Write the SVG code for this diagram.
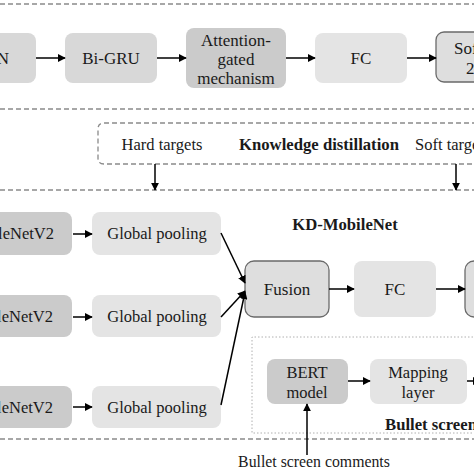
<svg xmlns="http://www.w3.org/2000/svg" width="474" height="474" viewBox="0 0 474 474">
<style>
text{font-family:"Liberation Serif","Times New Roman",serif;fill:#1a1a1a;text-anchor:middle}
.t17{font-size:17px}
.t16{font-size:16.5px}
.b{font-weight:bold;font-size:16.7px}
.light{fill:#e4e4e4}
.mid{fill:#d8d8d8}
.dark{fill:#cbcbcb}
.bord{fill:#dedede;stroke:#6a6a6a;stroke-width:1.3}
.sep{stroke:#8a8a8a;stroke-width:1.3;stroke-dasharray:5 3;fill:none}
.dot{stroke:#b0b0b0;stroke-width:1;stroke-dasharray:1.5 2;fill:none}
.conn line{stroke:#000;stroke-width:1.5;marker-end:url(#ah)}
</style>
<defs>
<marker id="ah" viewBox="0 0 10 10" refX="9" refY="5" markerWidth="8" markerHeight="8" markerUnits="userSpaceOnUse" orient="auto">
<path d="M0,0 L10,5 L0,10 z" fill="#000"/>
</marker>
</defs>
<rect width="474" height="474" fill="#fff"/>
<g id="separators">
<line class="sep" x1="0" y1="4" x2="474" y2="4"/>
<line class="sep" x1="0" y1="109" x2="474" y2="109"/>
<line class="sep" x1="0" y1="190" x2="474" y2="190"/>
<line class="sep" x1="0" y1="439" x2="474" y2="439"/>
<path class="sep" d="M480,164 H104 Q98,164 98,158 V129 Q98,123 104,123 H480"/>
<path class="dot" d="M480,337 H252 V433 H480"/>
</g>
<g id="cnn"><rect class="mid" x="-40" y="33" width="76" height="50" rx="8"/><text class="t17" x="9" y="64" style="text-anchor:end">CNN</text></g>
<g id="bigru"><rect class="mid" x="65" y="33" width="92" height="50" rx="8"/><text class="t17" x="111" y="64">Bi-GRU</text></g>
<g id="attention"><rect class="dark" x="186" y="28" width="100" height="60" rx="8"/><text class="t17" x="236" y="46">Attention-</text><text class="t17" x="236" y="65">gated</text><text class="t17" x="236" y="84">mechanism</text></g>
<g id="fc1"><rect class="light" x="315" y="33" width="92" height="50" rx="8"/><text class="t17" x="361" y="64">FC</text></g>
<g id="softmax"><rect class="bord" x="436" y="32" width="90" height="50" rx="8"/><text class="t17" x="454" y="54" style="text-anchor:start">Softmax</text><text class="t17" x="466" y="74" style="text-anchor:start">2</text></g>
<g id="kd">
<text class="t16" x="162" y="150">Hard targets</text>
<text class="b" x="239" y="150" style="text-anchor:start">Knowledge distillation</text>
<text class="t16" x="415" y="150" style="text-anchor:start">Soft targets</text>
</g>
<g id="title"><text class="b" x="345" y="230">KD-MobileNet</text></g>
<g id="mnet1"><rect class="dark" x="-40" y="212" width="112" height="43" rx="8"/><text class="t16" x="54" y="239" style="text-anchor:end">MobileNetV2</text></g>
<g id="mnet2"><rect class="dark" x="-40" y="295" width="112" height="42" rx="8"/><text class="t16" x="53" y="322" style="text-anchor:end">MobileNetV2</text></g>
<g id="mnet3"><rect class="dark" x="-40" y="386" width="112" height="42" rx="8"/><text class="t16" x="53" y="413" style="text-anchor:end">MobileNetV2</text></g>
<g id="gp1"><rect class="light" x="92" y="212" width="129" height="43" rx="8"/><text class="t16" x="157" y="239">Global pooling</text></g>
<g id="gp2"><rect class="light" x="92" y="295" width="129" height="42" rx="8"/><text class="t16" x="157" y="322">Global pooling</text></g>
<g id="gp3"><rect class="light" x="92" y="386" width="129" height="42" rx="8"/><text class="t16" x="157" y="413">Global pooling</text></g>
<g id="fusion"><rect class="bord" x="245" y="261" width="84" height="56" rx="9"/><text class="t17" x="287" y="295">Fusion</text></g>
<g id="fc2"><rect class="light" x="354" y="261" width="82" height="56" rx="8"/><text class="t17" x="395" y="295">FC</text></g>
<g id="out"><rect class="bord" x="465" y="261" width="60" height="56" rx="9"/></g>
<g id="bert"><rect class="dark" x="267" y="359" width="81" height="45" rx="8"/><text class="t16" x="307" y="378">BERT</text><text class="t16" x="307" y="398">model</text></g>
<g id="mapping"><rect class="light" x="370" y="359" width="97" height="45" rx="8"/><text class="t16" x="418" y="378">Mapping</text><text class="t16" x="418" y="398">layer</text></g>
<g id="bs-title"><text class="b" x="385" y="430" style="text-anchor:start">Bullet screen</text></g>
<g id="bs-input"><text x="314" y="467" style="font-size:15.8px">Bullet screen comments</text></g>
<g class="conn" id="connectors">
<line x1="36" y1="58" x2="65" y2="58"/>
<line x1="157" y1="58" x2="186" y2="58"/>
<line x1="286" y1="58" x2="315" y2="58"/>
<line x1="407" y1="58" x2="436" y2="58"/>
<line x1="155" y1="164" x2="155" y2="190"/>
<line x1="456" y1="164" x2="456" y2="190"/>
<line x1="73" y1="234" x2="92" y2="234"/>
<line x1="73" y1="317" x2="92" y2="317"/>
<line x1="73" y1="407" x2="92" y2="407"/>
<line x1="221" y1="233" x2="245" y2="283"/>
<line x1="221" y1="317" x2="245" y2="291"/>
<line x1="221" y1="405" x2="245" y2="292"/>
<line x1="329" y1="289" x2="354" y2="289"/>
<line x1="436" y1="289" x2="465" y2="289"/>
<line x1="348" y1="381" x2="370" y2="381"/>
<line x1="467" y1="381" x2="480" y2="381"/>
<line x1="307" y1="455" x2="307" y2="404"/>
</g>
</svg>
